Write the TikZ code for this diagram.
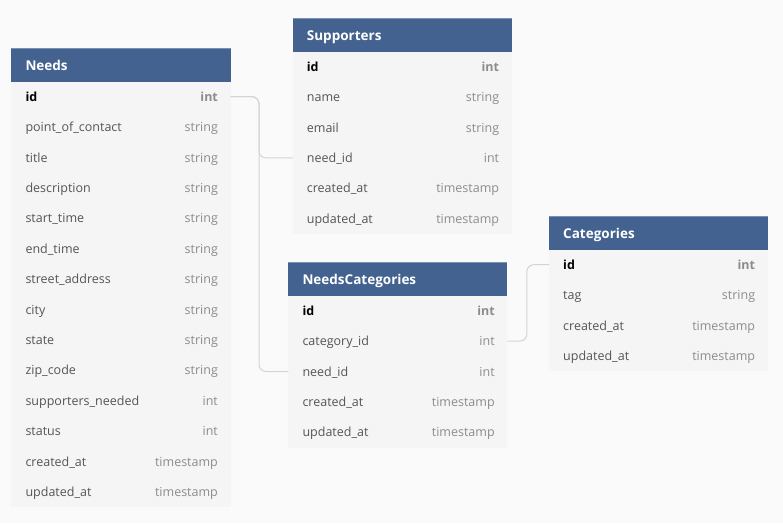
\documentclass[tikz,border=0pt]{standalone}
\usepackage{fontspec}
\setmainfont{Open Sans}
\definecolor{bgc}{RGB}{250,250,250}
\definecolor{hdrc}{RGB}{67,98,143}
\definecolor{hdredge}{RGB}{120,145,180}
\definecolor{bodyc}{RGB}{245,245,245}
\definecolor{namec}{RGB}{85,85,85}
\definecolor{typec}{RGB}{140,140,140}
\definecolor{linec}{RGB}{212,212,212}
\tikzset{
 hdrbox/.style={fill=hdrc, inner sep=0pt, outer sep=0pt, anchor=north west, minimum height=33.5pt},
 rowbox/.style={fill=bodyc, draw=none, inner sep=0pt, outer sep=0pt, anchor=north west, minimum height=30.4pt},
 hdrtext/.style={anchor=base west, inner sep=0pt, text=white, font=\fontsize{13.5}{16}\selectfont\bfseries},
 fname/.style={anchor=base west, inner sep=0pt, text=namec, font=\fontsize{12.5}{15}\selectfont},
 ftype/.style={anchor=base east, inner sep=0pt, text=typec, font=\fontsize{12.5}{15}\selectfont},
 fnamekey/.style={fname, text=black, font=\fontsize{12.5}{15}\selectfont\bfseries},
 ftypekey/.style={ftype, font=\fontsize{12.5}{15}\selectfont\bfseries},
 conn/.style={draw=linec, line width=1pt, rounded corners=7pt},
}
\newcommand\erdtab[6]{%
 \node[hdrbox, minimum width=#4pt] (#1) at (#2,#3) {};
 \draw[hdredge, line width=0.6pt] (#1.north west) -- (#1.north east);
 \node[hdrtext] (#1-title) at ([xshift=14pt,yshift=-5.5pt]#1.west) {#5};
 \foreach \n/\t [count=\i] in {#6} {
   \node[rowbox, minimum width=#4pt] (#1-\i) at (#2,{#3+33.5+(\i-1)*30.4}) {};
   \ifnum\i=1
     \node[fnamekey] (#1-\i-n) at ([xshift=14pt,yshift=-4.5pt]#1-\i.west) {\n};
     \node[ftypekey] (#1-\i-t) at ([xshift=-12.4pt,yshift=-4.5pt]#1-\i.east) {\t};
   \else
     \node[fname] (#1-\i-n) at ([xshift=14pt,yshift=-4.5pt]#1-\i.west) {\n};
     \node[ftype] (#1-\i-t) at ([xshift=-12.4pt,yshift=-4.5pt]#1-\i.east) {\t};
   \fi
 }
}
\begin{document}
\begin{tikzpicture}[x=1pt,y=-1pt]
\useasboundingbox (0,0) rectangle (783,523);
\fill[bgc] (0,0) rectangle (783,523);

\erdtab{needs}{11.3}{48}{219.2}{Needs}{id/int, point\_of\_contact/string, title/string, description/string, start\_time/string, end\_time/string, street\_address/string, city/string, state/string, zip\_code/string, supporters\_needed/int, status/int, created\_at/timestamp, updated\_at/timestamp}

\erdtab{sup}{292.7}{18}{219}{Supporters}{id/int, name/string, email/string, need\_id/int, created\_at/timestamp, updated\_at/timestamp}

\erdtab{nc}{288.3}{262}{219}{NeedsCategories}{id/int, category\_id/int, need\_id/int, created\_at/timestamp, updated\_at/timestamp}

\erdtab{cat}{549}{216}{218.7}{Categories}{id/int, tag/string, created\_at/timestamp, updated\_at/timestamp}

\draw[conn] (needs-1.east) -- ++(28.5,0) |- (sup-4.west);
\draw[conn] (needs-1.east) -- ++(28.5,0) |- (nc-3.west);
\draw[conn] (nc-2.east) -- ++(19.5,0) |- (cat-1.west);
\end{tikzpicture}
\end{document}
